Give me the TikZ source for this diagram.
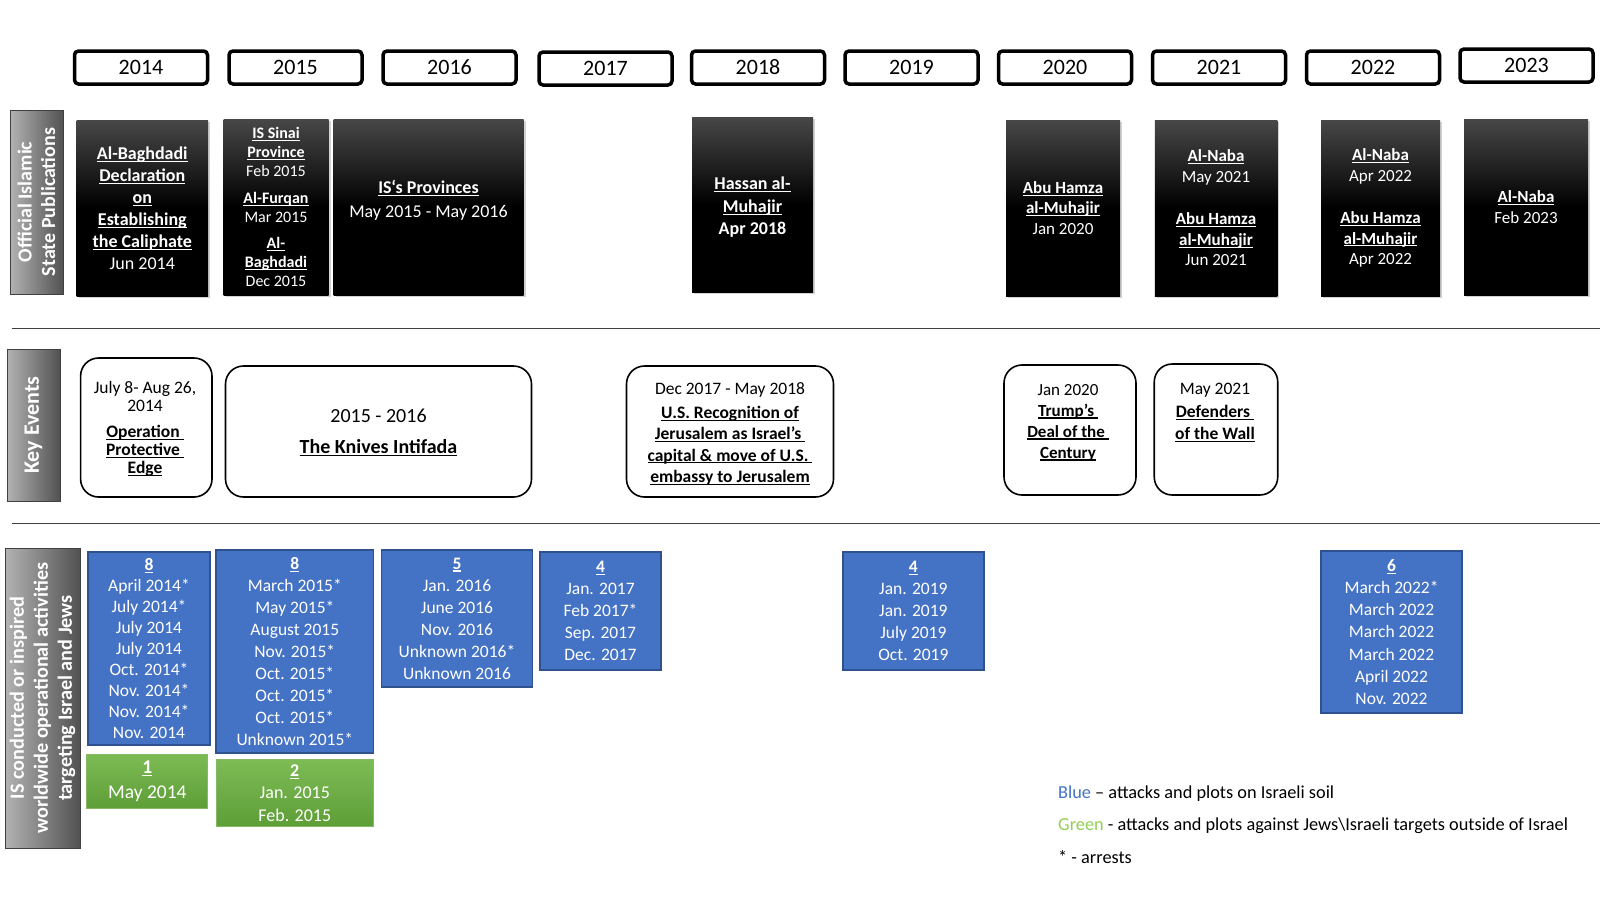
\documentclass[tikz,border=0pt]{standalone}
\usepackage{fontspec}
\setmainfont{Carlito}
\usetikzlibrary{shadows}
\definecolor{ublue}{HTML}{4472C4}
\definecolor{ubluedk}{HTML}{2F528F}
\definecolor{ugreen}{HTML}{70AD47}
\definecolor{ugreenlt}{HTML}{7DBB55}
\definecolor{ugreendk}{HTML}{5E9E37}
\definecolor{lgreen}{HTML}{92D050}
\newcommand{\fsz}[2]{\fontsize{#1}{#2}\selectfont}
\newcommand{\ulx}[1]{\setbox0\hbox{#1}\rlap{\rule[-0.14em]{\wd0}{0.065em}}\box0}
\newcommand{\ub}[1]{\ulx{\bfseries #1}}
\tikzset{
  yearbox/.style={draw=black, line width=3.5pt, rounded corners=4pt, fill=white,
    minimum width=133pt, minimum height=33pt, inner sep=0pt, font=\fsz{22}{26}},
  blackbox/.style={top color=black!72, bottom color=black, middle color=black, draw=none,
    text=white, align=center, inner sep=0pt,
    drop shadow={shadow xshift=2pt, shadow yshift=-2pt, opacity=0.35}},
  labelbox/.style={left color=black!30, right color=black!68, draw=black!75, line width=1pt, inner sep=0pt},
  labeltext/.style={rotate=90, text=white, align=center, inner sep=0pt},
  eventbox/.style={draw=black, line width=1.6pt, rounded corners=18pt, fill=white, inner sep=0pt},
  eventtext/.style={align=center, inner sep=0pt},
  bluebox/.style={fill=ublue, draw=ubluedk, line width=1.5pt, text=white, align=center, inner sep=0pt},
  greenbox/.style={top color=ugreenlt, bottom color=ugreendk, draw=ugreen!85, line width=1pt,
    text=white, align=center, inner sep=0pt},
  legend/.style={anchor=west, inner sep=0pt, font=\fsz{18.3}{22}},
  sepline/.style={draw=black!75, line width=1.5pt}
}
\begin{document}
\begin{tikzpicture}[x=1pt,y=-1pt]
\useasboundingbox (0,0) rectangle (1600,900);
\fill[white] (0,0) rectangle (1600,900);

% year boxes
\node[yearbox] (y2014) at (141,67.5) {2014};
\node[yearbox] (y2015) at (295.5,67.5) {2015};
\node[yearbox] (y2016) at (449.5,67.5) {2016};
\node[yearbox] (y2017) at (605.5,68.5) {2017};
\node[yearbox] (y2018) at (758,67.5) {2018};
\node[yearbox] (y2019) at (911.5,67.5) {2019};
\node[yearbox] (y2020) at (1065,67.5) {2020};
\node[yearbox] (y2021) at (1219,67.5) {2021};
\node[yearbox] (y2022) at (1373,67.5) {2022};
\node[yearbox] (y2023) at (1526.5,65.5) {2023};

% section labels
\node[labelbox, minimum width=53pt, minimum height=184pt] (l1) at (36.5,202) {};
\node[labeltext, font=\fsz{20}{23.5}\bfseries] (l1t) at (l1.center) {Official Islamic\\State Publications};
\node[labelbox, minimum width=53pt, minimum height=152pt] (l2) at (33.5,425) {};
\node[labeltext, font=\fsz{22}{26}\bfseries] (l2t) at (l2.center) {Key Events};
\node[labelbox, minimum width=75pt, minimum height=300pt] (l3) at (42.5,698) {};
\node[labeltext, font=\fsz{20.2}{24}\bfseries] (l3t) at (l3.center) {IS conducted or inspired\\worldwide operational activities\\targeting Israel and Jews};

% separators
\coordinate (s1a) at (12,328.5);
\coordinate (s1b) at (1600,328.5);
\coordinate (s2a) at (12,523.5);
\coordinate (s2b) at (1600,523.5);
\draw[sepline] (s1a) -- (s1b);
\draw[sepline] (s2a) -- (s2b);

% publications
\node[blackbox, minimum width=131.5pt, minimum height=176pt, font=\fsz{18}{22}] (b1) at (142.3,208)
  {\ub{Al-Baghdadi}\\\ub{Declaration}\\\ub{on}\\\ub{Establishing}\\\ub{the Caliphate}\\Jun 2014};
\node[blackbox, minimum width=105pt, minimum height=176pt, font=\fsz{16}{18.9}] (b2) at (276,207)
  {\ub{IS Sinai}\\\ub{Province}\\Feb 2015\\[8.5pt]\ub{Al-Furqan}\\Mar 2015\\[7.5pt]\ub{Al-}\\\ub{Baghdadi}\\Dec 2015};
\node[blackbox, minimum width=190pt, minimum height=176pt] (b3) at (428.5,207) {};
\node[eventtext, text=white, font=\fsz{18}{23.5}] (b3t) at (428.5,200.5) {\ub{IS‘s Provinces}\\May 2015 - May 2016};
\node[blackbox, minimum width=121pt, minimum height=175pt] (b4) at (752.5,204.5) {};
\node[eventtext, text=white, font=\fsz{18}{22.5}] (b4t) at (752.5,207.5)
  {\ub{Hassan al-}\\\ub{Muhajir}\\\textbf{Apr 2018}};
\node[blackbox, minimum width=114pt, minimum height=176pt, font=\fsz{17}{20.5}] (b5) at (1063,208)
  {\ub{Abu Hamza}\\\ub{al-Muhajir}\\Jan 2020};
\node[blackbox, minimum width=122.5pt, minimum height=176pt, font=\fsz{17}{20.5}] (b6) at (1216,208)
  {\ub{Al-Naba}\\May 2021\\[22pt]\ub{Abu Hamza}\\\ub{al-Muhajir}\\Jun 2021};
\node[blackbox, minimum width=119pt, minimum height=176pt, font=\fsz{17}{20.5}] (b7) at (1380.5,208)
  {\ub{Al-Naba}\\Apr 2022\\[22pt]\ub{Abu Hamza}\\\ub{al-Muhajir}\\Apr 2022};
\node[blackbox, minimum width=124pt, minimum height=176pt, font=\fsz{17}{20.5}] (b8) at (1526,207)
  {\ub{Al-Naba}\\Feb 2023};

% key events
\node[eventbox, minimum width=131.4pt, minimum height=139pt] (k1) at (146.3,427.5) {};
\node[eventtext, font=\fsz{17.5}{18}] (k1t) at (145,429)
  {July 8- Aug 26,\\2014\\[8pt]\ub{Operation~}\\\ub{Protective~}\\\ub{Edge}};
\node[eventbox, minimum width=306pt, minimum height=131pt] (k2) at (378.5,431.5) {};
\node[eventtext, font=\fsz{20}{24}] (k2t) at (378.5,432.5)
  {2015 - 2016\\[6.5pt]\ub{The Knives Intifada}};
\node[eventbox, minimum width=207pt, minimum height=131pt] (k3) at (730,431.5) {};
\node[eventtext, font=\fsz{17.5}{21.4}] (k3t) at (730,434)
  {Dec 2017 - May 2018\\[2pt]\ub{U.S. Recognition of}\\\ub{Jerusalem as Israel’s~}\\\ub{capital \& move of U.S.~}\\\ub{embassy to Jerusalem}};
\node[eventbox, minimum width=132pt, minimum height=130pt] (k4) at (1070,430) {};
\node[eventtext, font=\fsz{17}{21}] (k4t) at (1068,422.5)
  {Jan 2020\\\ub{Trump’s~}\\\ub{Deal of the~}\\\ub{Century}};
\node[eventbox, minimum width=123.5pt, minimum height=131pt] (k5) at (1216,429.5) {};
\node[eventtext, font=\fsz{17.5}{21.4}] (k5t) at (1215,412.5)
  {May 2021\\[2pt]\ub{Defenders~}\\\ub{of the Wall}};

% operational activities
\node[bluebox, minimum width=122pt, minimum height=193pt, font=\fsz{17.5}{21}] (u1) at (149,648.5)
  {\ub{8}\\April 2014*\\July 2014*\\July 2014\\July 2014\\Oct. 2014*\\Nov. 2014*\\Nov. 2014*\\Nov. 2014};
\node[bluebox, minimum width=157.5pt, minimum height=203pt, font=\fsz{17.5}{21.9}] (u2) at (294.8,651.5)
  {\ub{8}\\March 2015*\\May 2015*\\August 2015\\Nov. 2015*\\Oct. 2015*\\Oct. 2015*\\Oct. 2015*\\Unknown 2015*};
\node[bluebox, minimum width=151pt, minimum height=137pt, font=\fsz{17.5}{22}] (u3) at (457,618.5)
  {\ub{5}\\Jan. 2016\\June 2016\\Nov. 2016\\Unknown 2016*\\Unknown 2016};
\node[bluebox, minimum width=121pt, minimum height=118pt, font=\fsz{17.5}{21.9}] (u4) at (600.5,611)
  {\ub{4}\\Jan. 2017\\Feb 2017*\\Sep. 2017\\Dec. 2017};
\node[bluebox, minimum width=140.7pt, minimum height=118pt, font=\fsz{17.5}{21.9}] (u5) at (913.4,611)
  {\ub{4}\\Jan. 2019\\Jan. 2019\\July 2019\\Oct. 2019};
\node[bluebox, minimum width=141pt, minimum height=162pt, font=\fsz{17.5}{22.2}] (u6) at (1391.5,632)
  {\ub{6}\\March 2022*\\March 2022\\March 2022\\March 2022\\April 2022\\Nov. 2022};
\node[greenbox, minimum width=121pt, minimum height=54pt, font=\fsz{19.5}{24.5}] (g1) at (147.4,781)
  {\ub{1}\\May 2014};
\node[greenbox, minimum width=157.5pt, minimum height=66.5pt, font=\fsz{18}{22.4}] (g2) at (294.8,793)
  {\ub{2}\\Jan. 2015\\Feb. 2015};

% legend
\node[legend] (lg1) at (1058,794) {\textcolor{ublue}{Blue} – attacks and plots on Israeli soil};
\node[legend] (lg2) at (1058,825.5) {\textcolor{lgreen}{Green} - attacks and plots against Jews\textbackslash Israeli targets outside of Israel};
\node[legend] (lg3) at (1058,857) {* - arrests};
\end{tikzpicture}
\end{document}
